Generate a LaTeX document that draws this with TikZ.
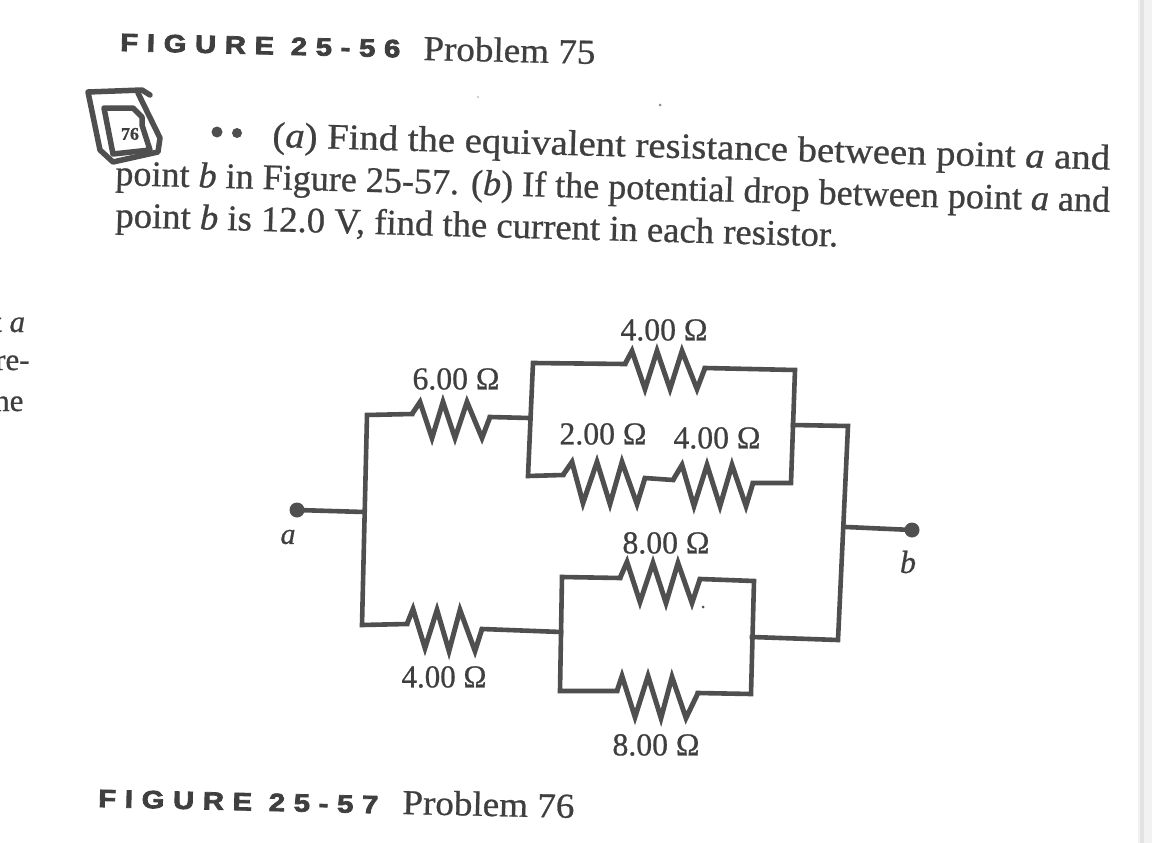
\documentclass[tikz,border=0pt]{standalone}
\usepackage{fontspec}
\setmainfont[FakeBold=0.7]{Liberation Serif}
\newfontfamily\headfont[LetterSpace=30,FakeBold=3]{Liberation Sans}
\definecolor{ink}{HTML}{4F4F4F}
\definecolor{txt}{HTML}{3F3F3F}
\newcommand{\fitw}[2]{\resizebox{#1pt}{\height}{#2}}
\tikzset{
  wire/.style={draw=ink,line width=4.6pt,line join=miter,line cap=rect},
  zig/.style={draw=ink,line width=5pt,line join=miter,miter limit=6},
  terminal/.style={circle,fill=ink,inner sep=0pt,minimum size=15pt},
  val/.style={text=txt,font=\fontsize{32}{34}\selectfont,inner sep=0pt,anchor=center},
  body/.style={text=txt,font=\fontsize{36}{38}\selectfont,inner sep=0pt,anchor=base west,rotate=-1.55},
  headlab/.style={text=txt,font=\headfont\bfseries\fontsize{25}{27}\selectfont,inner sep=0pt,anchor=base west,rotate=-1.3},
  headnum/.style={text=txt,font=\fontsize{35}{37}\selectfont,inner sep=0pt,anchor=base west,rotate=-1.3},
  side/.style={text=txt,font=\fontsize{31}{33}\selectfont,inner sep=0pt,anchor=base west}
}
\begin{document}
\begin{tikzpicture}[x=1pt,y=-1pt]
\useasboundingbox (0,0) rectangle (1152,843);
\fill[white] (0,0) rectangle (1152,843);
\fill[black!5] (1138,0) rectangle (1152,843);
\fill[black!11] (1140,0) rectangle (1144,843);
% headings and text
\node[headlab] (h1) at (120,51) {\fitw{280}{FIGURE 25-56}};
\node[headnum] (p1) at (423,60) {\fitw{172}{Problem 75}};
\node[body] (t1) at (272,147) {\fitw{838}{(\textit{a}) Find the equivalent resistance between point \textit{a} and}};
\node[body] (t2) at (115,185) {\fitw{995}{point \textit{b} in Figure 25-57. (\textit{b}) If the potential drop between point \textit{a} and}};
\node[body] (t3) at (115,227) {\fitw{723}{point \textit{b} is 12.0 V, find the current in each resistor.}};
\node[headlab] (h2) at (98,807) {\fitw{280}{FIGURE 25-57}};
\node[headnum] (p2) at (402,814) {\fitw{172}{Problem 76}};
% clipped margin text
\node[side] (s1) at (-7,332) {t \textit{a}};
\node[side] (s2) at (-5,370) {re-};
\node[side] (s3) at (-6,411) {ne};
% handwritten box
\draw[draw=ink,line width=5.5pt,line join=round,line cap=round]
  (150,95) -- (142,90) -- (88,92) -- (100,150) -- (113,162) -- (158,152) -- (160,138) -- (138,93);
\draw[draw=ink,line width=5.5pt,line join=round,line cap=round]
  (133,108) -- (104,108) -- (113,154) -- (150,150) -- (142,125) -- (142,117) -- cycle;
\node[text=txt,font=\bfseries\fontsize{18}{18}\selectfont,inner sep=0pt] (n76) at (130,134) {76};
\fill[ink] (217,132) circle (5.5pt) (237,133) circle (5pt);
% specks
\fill[black!25] (478,97) circle (1.2pt);
\fill[black!45] (660,105) circle (1.5pt);
\fill[ink] (703,607) circle (1.5pt);
% terminals and corners
\node[terminal] (A) at (297,510) {};
\node[terminal] (B) at (912,530) {};
\coordinate (ja) at (364,512);
\coordinate (jb) at (846,527);
\coordinate (c1) at (367,415);
\coordinate (c2) at (362,625);
\coordinate (u1) at (529,418);
\coordinate (ut) at (533,363);
\coordinate (ub) at (528,476);
\coordinate (vt) at (795,370);
\coordinate (vb) at (791,483);
\coordinate (vm) at (793,425);
\coordinate (rt) at (848,426);
\coordinate (rb) at (838,640);
\coordinate (lt) at (562,577);
\coordinate (lb) at (560,691);
\coordinate (lm) at (561,632);
\coordinate (mt) at (754,581);
\coordinate (mb) at (751,694);
\coordinate (mm) at (752,637);
% wires
\draw[wire] (A) -- (ja);
\draw[wire] (B) -- (jb);
\draw[wire] (412,414) -- (c1) -- (c2) -- (407,624);
\draw[wire] (490,417) -- (u1);
\draw[wire] (625,364) -- (ut) -- (ub) -- (563,475);
\draw[wire] (705,368) -- (vt) -- (vb) -- (753,483);
\draw[wire] (645,478) -- (673,480);
\draw[wire] (vm) -- (rt) -- (rb) -- (mm);
\draw[wire] (482,629) -- (lm);
\draw[wire] (620,578) -- (lt) -- (lb) -- (617,691);
\draw[wire] (700,579) -- (mt) -- (mb) -- (698,693);
% resistors
\draw[zig] (412,414) -- (420,402) -- (432,438) -- (443,402) -- (455,438) -- (467,402) -- (482,438) -- (490,417);
\draw[zig] (625,364) -- (632,351) -- (645,389) -- (657,351) -- (670,389) -- (682,351) -- (697,389) -- (705,368);
\draw[zig] (563,475) -- (572,462) -- (583,503) -- (597,462) -- (610,504) -- (622,462) -- (637,504) -- (645,478);
\draw[zig] (673,480) -- (682,465) -- (694,506) -- (707,465) -- (720,506) -- (732,465) -- (746,506) -- (753,483);
\draw[zig] (407,624) -- (413,609) -- (425,648) -- (437,610) -- (449,651) -- (460,610) -- (475,651) -- (482,629);
\draw[zig] (620,578) -- (627,562) -- (640,602) -- (653,563) -- (666,603) -- (678,563) -- (692,603) -- (700,579);
\draw[zig] (617,691) -- (622,676) -- (635,717) -- (648,676) -- (661,718) -- (672,677) -- (686,718) -- (698,693);
% labels
\node[val] (l1) at (456,379) {\fitw{87}{6.00 Ω}};
\node[val] (l2) at (664,330) {\fitw{87}{4.00 Ω}};
\node[val] (l3) at (603,434) {\fitw{87}{2.00 Ω}};
\node[val] (l4) at (717,438) {\fitw{87}{4.00 Ω}};
\node[val] (l5) at (666,543) {\fitw{87}{8.00 Ω}};
\node[val] (l6) at (444,677) {\fitw{85}{4.00 Ω}};
\node[val] (l7) at (656,745) {\fitw{87}{8.00 Ω}};
\node[text=txt,font=\itshape\fontsize{30}{30}\selectfont,inner sep=0pt] (la) at (288,537) {a};
\node[text=txt,font=\itshape\fontsize{32}{32}\selectfont,inner sep=0pt] (lb2) at (908,562) {b};
\end{tikzpicture}
\end{document}
